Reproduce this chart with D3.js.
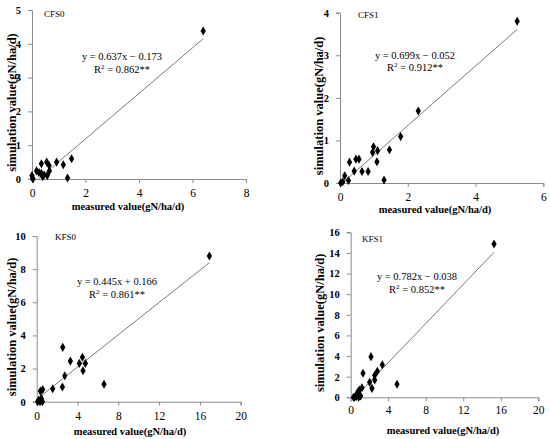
<!DOCTYPE html>
<html>
<head>
<meta charset="utf-8">
<script src="https://cdn.jsdelivr.net/npm/d3@7"></script>
<style>
  body { margin: 0; background: #fff; }
  text { font-family: "Liberation Serif", "Times New Roman", serif; fill: #000; }
</style>
</head>
<body>
<div id="chart"></div>
<script>
// panel names
var panelNames = ["CFS0", "CFS1", "KFS0", "KFS1"];

// measured (x) and simulated (y) values
var cfs0X = [6.40, 1.48, 1.17, 0.92, 1.33, 0.55, 0.64, 0.35, 0.65, 0.17, 0.26, 0.35, 0.45, 0.57, 0.40, 0.00, 0.02, 0.04];
var cfs0Y = [4.38, 0.60, 0.42, 0.50, 0.03, 0.50, 0.40, 0.45, 0.24, 0.24, 0.19, 0.17, 0.12, 0.10, 0.07, 0.10, 0.02, 0.00];

var cfs1X = [5.23, 2.31, 1.79, 1.46, 1.11, 0.99, 0.96, 1.09, 1.30, 0.83, 0.65, 0.56, 0.47, 0.42, 0.28, 0.14, 0.25, 0.08, 0.02];
var cfs1Y = [3.80, 1.69, 1.09, 0.78, 0.76, 0.85, 0.72, 0.50, 0.07, 0.27, 0.27, 0.56, 0.56, 0.28, 0.49, 0.17, 0.06, 0.03, 0.00];

var kfs0X = [16.93, 2.55, 3.30, 4.48, 4.18, 4.77, 4.54, 2.75, 6.60, 2.52, 1.57, 0.59, 0.36, 0.46, 0.56, 0.20, 0.10, 0.33];
var kfs0Y = [8.79, 3.28, 2.45, 2.68, 2.31, 2.31, 1.87, 1.57, 1.05, 0.89, 0.78, 0.74, 0.64, 0.20, 0.00, 0.10, 0.00, 0.00];

var kfs1X = [15.28, 2.16, 3.37, 1.31, 2.84, 2.56, 2.56, 2.02, 2.27, 4.94, 1.20, 0.92, 0.71, 1.06, 0.81, 0.58, 0.30, 0.40, 0.85];
var kfs1Y = [14.87, 3.94, 3.16, 2.33, 2.52, 2.13, 1.68, 1.45, 0.87, 1.26, 0.93, 0.71, 0.45, 0.13, 0.23, 0.06, 0.00, 0.00, 0.00];

// trendline end points as drawn in the picture [x0, x1], [y0, y1]
var trendX = [[0.24, 6.40], [0.07, 5.23], [0.10, 16.93], [0.46, 15.28]];
var trendY = [[0.00, 4.15], [0.00, 3.61], [0.19, 8.39], [0.00, 14.06]];

// axis ticks
var xTicks = [[0, 2, 4, 6, 8], [0, 2, 4, 6], [0, 4, 8, 12, 16, 20], [0, 4, 8, 12, 16, 20]];
var yTicks = [[0, 1, 2, 3, 4, 5], [0, 1, 2, 3, 4], [0, 2, 4, 6, 8, 10], [0, 2, 4, 6, 8, 10, 12, 14, 16]];

// fit labels
var equations = ["y = 0.637x \u2212 0.173", "y = 0.699x \u2212 0.052", "y = 0.445x + 0.166", "y = 0.782x \u2212 0.038"];
var rSquared = ["0.862**", "0.912**", "0.861**", "0.852**"];

var xLabel = "measured value(gN/ha/d)";
var yLabel = "simulation value(gN/ha/d)";

var seriesX = [cfs0X, cfs1X, kfs0X, kfs1X];
var seriesY = [cfs0Y, cfs1Y, kfs0Y, kfs1Y];

// pixel layout of each panel
var layout = [
  {x0: 32,    x1: 246,   y0: 179,   y1: 10,    yl: 12,  xl: 128, xlY: 210, tickY: 16, nameX: 44,  nameY: 17,  eqX: 122, eqY: 60,  rY: 73},
  {x0: 340,   x1: 543.3, y0: 183,   y1: 12.7,  yl: 319, xl: 435, xlY: 213, tickY: 16, nameX: 358, nameY: 18,  eqX: 415, eqY: 59,  rY: 71},
  {x0: 36.7,  x1: 240.7, y0: 401.7, y1: 236,   yl: 12,  xl: 130, xlY: 435, tickY: 16, nameX: 55,  nameY: 240, eqX: 117, eqY: 285, rY: 298},
  {x0: 350.7, x1: 538.3, y0: 397.3, y1: 232.3, yl: 320, xl: 443, xlY: 434, tickY: 15, nameX: 362, nameY: 242, eqX: 417, eqY: 280, rY: 293}
];

var svg = d3.select("#chart")
  .append("svg")
    .attr("width", 550)
    .attr("height", 439);

layout.forEach(function(p, i) {
  var xt = xTicks[i], yt = yTicks[i];
  var x = d3.scaleLinear()
    .domain([0, xt[xt.length - 1]])
    .range([p.x0, p.x1]);
  var y = d3.scaleLinear()
    .domain([0, yt[yt.length - 1]])
    .range([p.y0, p.y1]);

  var g = svg.append("g");

  // X axis
  var gx = g.append("g")
    .attr("transform", "translate(0," + p.y0 + ")")
    .call(d3.axisBottom(x).tickValues(xt).tickSize(4).tickPadding(p.tickY - 10).tickFormat(d3.format("d")));
  gx.selectAll("text")
    .style("font-family", "Liberation Serif")
    .style("font-size", "11.5px");

  // Y axis
  var gy = g.append("g")
    .attr("transform", "translate(" + p.x0 + ",0)")
    .call(d3.axisLeft(y).tickValues(yt).tickSize(4).tickPadding(7).tickFormat(d3.format("d")));
  gy.selectAll("text")
    .style("font-family", "Liberation Serif")
    .style("font-size", "10.5px")
    .style("font-weight", "bold");

  g.selectAll(".domain, .tick line")
    .attr("stroke", "#8c8c8c");

  // trendline
  g.append("line")
    .attr("x1", x(trendX[i][0]))
    .attr("y1", y(trendY[i][0]))
    .attr("x2", x(trendX[i][1]))
    .attr("y2", y(trendY[i][1]))
    .attr("stroke", "#7a7a7a")
    .attr("stroke-width", 1);

  // points
  var pts = seriesX[i].map(function(v, k) { return [v, seriesY[i][k]]; });
  g.selectAll("path.pt")
    .data(pts)
    .enter()
    .append("path")
    .attr("class", "pt")
    .attr("d", d3.symbol().type(d3.symbolDiamond).size(24))
    .attr("transform", function(d) { return "translate(" + x(d[0]) + "," + y(d[1]) + ")"; })
    .attr("fill", "#000");

  // titles
  g.append("text")
    .attr("x", p.xl)
    .attr("y", p.xlY)
    .attr("text-anchor", "middle")
    .style("font-size", "10.5px")
    .style("font-weight", "bold")
    .text(xLabel);

  g.append("text")
    .attr("transform", "translate(" + p.yl + "," + ((p.y0 + p.y1) / 2 + 8) + ")rotate(-90)")
    .attr("text-anchor", "middle")
    .attr("dy", "0.35em")
    .style("font-size", "12.5px")
    .style("font-weight", "bold")
    .text(yLabel);

  g.append("text")
    .attr("x", p.nameX)
    .attr("y", p.nameY)
    .style("font-size", "9px")
    .text(panelNames[i]);

  g.append("text")
    .attr("x", p.eqX)
    .attr("y", p.eqY)
    .attr("text-anchor", "middle")
    .style("font-size", "10.5px")
    .text(equations[i]);

  var r = g.append("text")
    .attr("x", p.eqX)
    .attr("y", p.rY)
    .attr("text-anchor", "middle")
    .style("font-size", "10.5px");
  r.append("tspan").text("R");
  r.append("tspan").attr("dy", "-4").style("font-size", "7px").text("2");
  r.append("tspan").attr("dy", "4").text(" = " + rSquared[i]);
});
</script>
</body>
</html>
